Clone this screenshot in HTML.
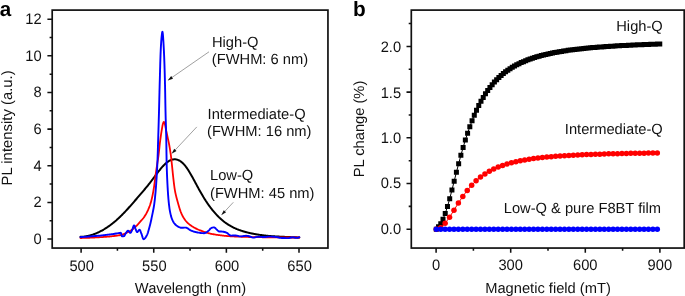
<!DOCTYPE html>
<html lang="en">
<head>
<meta charset="utf-8">
<title>PL spectra and magnetic field effect</title>
<style>
html,body{margin:0;padding:0;background:#fff;}
body{width:685px;height:296px;overflow:hidden;}
svg{display:block;}
</style>
</head>
<body>
<svg width="685" height="296" viewBox="0 0 685 296" font-family="'Liberation Sans', Arial, Helvetica, sans-serif" font-size="14.7" fill="#111" text-rendering="geometricPrecision">
<rect width="685" height="296" fill="#fff"/>
<g id="panel-a">
<path d="M80.5 236.85 L80.94 236.83 L81.38 236.81 L81.82 236.78 L82.25 236.75 L82.69 236.71 L83.13 236.67 L83.57 236.63 L84.01 236.58 L84.45 236.52 L84.88 236.46 L85.32 236.4 L85.76 236.33 L86.2 236.25 L86.64 236.18 L87.08 236.09 L87.52 236 L87.95 235.91 L88.39 235.81 L88.83 235.71 L89.27 235.61 L89.71 235.49 L90.15 235.38 L90.58 235.26 L91.02 235.13 L91.46 235 L91.9 234.87 L92.34 234.73 L92.78 234.58 L93.22 234.44 L93.65 234.28 L94.09 234.13 L94.53 233.96 L94.97 233.8 L95.41 233.62 L95.85 233.45 L96.29 233.27 L96.72 233.08 L97.16 232.89 L97.6 232.7 L98.04 232.5 L98.48 232.3 L98.92 232.09 L99.35 231.88 L99.79 231.66 L100.23 231.44 L100.67 231.21 L101.11 230.98 L101.55 230.75 L101.99 230.51 L102.42 230.27 L102.86 230.02 L103.3 229.77 L103.74 229.51 L104.18 229.25 L104.62 228.98 L105.05 228.71 L105.49 228.44 L105.93 228.16 L106.37 227.87 L106.81 227.58 L107.25 227.29 L107.69 226.99 L108.12 226.69 L108.56 226.39 L109 226.08 L109.44 225.76 L109.88 225.44 L110.32 225.12 L110.75 224.79 L111.19 224.46 L111.63 224.12 L112.07 223.78 L112.51 223.44 L112.95 223.09 L113.39 222.73 L113.82 222.38 L114.26 222.01 L114.7 221.65 L115.14 221.28 L115.58 220.9 L116.02 220.52 L116.46 220.14 L116.89 219.75 L117.33 219.36 L117.77 218.96 L118.21 218.56 L118.65 218.15 L119.09 217.74 L119.52 217.33 L119.96 216.91 L120.4 216.49 L120.84 216.06 L121.28 215.63 L121.72 215.2 L122.16 214.76 L122.59 214.32 L123.03 213.87 L123.47 213.42 L123.91 212.97 L124.35 212.51 L124.79 212.05 L125.22 211.58 L125.66 211.12 L126.1 210.65 L126.54 210.17 L126.98 209.7 L127.42 209.22 L127.86 208.74 L128.29 208.26 L128.73 207.77 L129.17 207.28 L129.61 206.79 L130.05 206.3 L130.49 205.8 L130.92 205.31 L131.36 204.81 L131.8 204.31 L132.24 203.81 L132.68 203.31 L133.12 202.8 L133.56 202.3 L133.99 201.79 L134.43 201.28 L134.87 200.77 L135.31 200.26 L135.75 199.75 L136.19 199.24 L136.63 198.73 L137.06 198.22 L137.5 197.71 L137.94 197.2 L138.38 196.69 L138.82 196.17 L139.26 195.66 L139.69 195.15 L140.13 194.64 L140.57 194.13 L141.01 193.62 L141.45 193.11 L141.89 192.6 L142.33 192.08 L142.76 191.57 L143.2 191.06 L143.64 190.55 L144.08 190.03 L144.52 189.51 L144.96 188.99 L145.39 188.47 L145.83 187.95 L146.27 187.42 L146.71 186.89 L147.15 186.36 L147.59 185.82 L148.03 185.28 L148.46 184.73 L148.9 184.18 L149.34 183.63 L149.78 183.07 L150.22 182.5 L150.66 181.93 L151.09 181.35 L151.53 180.77 L151.97 180.19 L152.41 179.61 L152.85 179.02 L153.29 178.43 L153.73 177.84 L154.16 177.25 L154.6 176.65 L155.04 176.06 L155.48 175.47 L155.92 174.89 L156.36 174.3 L156.79 173.72 L157.23 173.14 L157.67 172.56 L158.11 171.99 L158.55 171.43 L158.99 170.87 L159.43 170.32 L159.86 169.77 L160.3 169.24 L160.74 168.71 L161.18 168.19 L161.62 167.67 L162.06 167.17 L162.5 166.68 L162.93 166.2 L163.37 165.74 L163.81 165.28 L164.25 164.84 L164.69 164.41 L165.13 163.99 L165.56 163.59 L166 163.21 L166.44 162.84 L166.88 162.48 L167.32 162.15 L167.76 161.83 L168.2 161.52 L168.63 161.24 L169.07 160.97 L169.51 160.72 L169.95 160.49 L170.39 160.28 L170.83 160.09 L171.26 159.92 L171.7 159.77 L172.14 159.64 L172.58 159.53 L173.02 159.45 L173.46 159.38 L173.9 159.34 L174.33 159.31 L174.77 159.31 L175.21 159.33 L175.65 159.37 L176.09 159.43 L176.53 159.52 L176.96 159.62 L177.4 159.75 L177.84 159.9 L178.28 160.08 L178.72 160.27 L179.16 160.49 L179.6 160.73 L180.03 160.99 L180.47 161.28 L180.91 161.58 L181.35 161.91 L181.79 162.27 L182.23 162.64 L182.67 163.04 L183.1 163.47 L183.54 163.91 L183.98 164.38 L184.42 164.87 L184.86 165.39 L185.3 165.93 L185.73 166.5 L186.17 167.08 L186.61 167.69 L187.05 168.31 L187.49 168.96 L187.93 169.62 L188.37 170.3 L188.8 171 L189.24 171.71 L189.68 172.44 L190.12 173.18 L190.56 173.93 L191 174.69 L191.43 175.46 L191.87 176.24 L192.31 177.03 L192.75 177.83 L193.19 178.63 L193.63 179.43 L194.07 180.25 L194.5 181.06 L194.94 181.88 L195.38 182.69 L195.82 183.51 L196.26 184.32 L196.7 185.14 L197.13 185.95 L197.57 186.76 L198.01 187.57 L198.45 188.37 L198.89 189.17 L199.33 189.97 L199.77 190.76 L200.2 191.54 L200.64 192.32 L201.08 193.09 L201.52 193.85 L201.96 194.6 L202.4 195.35 L202.84 196.09 L203.27 196.82 L203.71 197.53 L204.15 198.24 L204.59 198.95 L205.03 199.64 L205.47 200.32 L205.9 201 L206.34 201.66 L206.78 202.32 L207.22 202.97 L207.66 203.6 L208.1 204.23 L208.54 204.86 L208.97 205.47 L209.41 206.07 L209.85 206.67 L210.29 207.26 L210.73 207.84 L211.17 208.41 L211.6 208.97 L212.04 209.53 L212.48 210.07 L212.92 210.61 L213.36 211.14 L213.8 211.66 L214.24 212.18 L214.67 212.68 L215.11 213.18 L215.55 213.67 L215.99 214.15 L216.43 214.62 L216.87 215.09 L217.3 215.55 L217.74 216 L218.18 216.44 L218.62 216.88 L219.06 217.3 L219.5 217.72 L219.94 218.14 L220.37 218.54 L220.81 218.94 L221.25 219.33 L221.69 219.71 L222.13 220.08 L222.57 220.45 L223.01 220.81 L223.44 221.17 L223.88 221.51 L224.32 221.85 L224.76 222.19 L225.2 222.51 L225.64 222.83 L226.07 223.15 L226.51 223.45 L226.95 223.75 L227.39 224.05 L227.83 224.34 L228.27 224.62 L228.71 224.9 L229.14 225.17 L229.58 225.43 L230.02 225.69 L230.46 225.94 L230.9 226.19 L231.34 226.44 L231.77 226.67 L232.21 226.9 L232.65 227.13 L233.09 227.35 L233.53 227.57 L233.97 227.78 L234.41 227.99 L234.84 228.2 L235.28 228.39 L235.72 228.59 L236.16 228.78 L236.6 228.96 L237.04 229.15 L237.47 229.32 L237.91 229.5 L238.35 229.67 L238.79 229.83 L239.23 230 L239.67 230.15 L240.11 230.31 L240.54 230.46 L240.98 230.61 L241.42 230.75 L241.86 230.9 L242.3 231.04 L242.74 231.17 L243.17 231.3 L243.61 231.44 L244.05 231.56 L244.49 231.69 L244.93 231.81 L245.37 231.93 L245.81 232.05 L246.24 232.17 L246.68 232.28 L247.12 232.39 L247.56 232.5 L248 232.61 L248.44 232.72 L248.88 232.82 L249.31 232.92 L249.75 233.02 L250.19 233.12 L250.63 233.22 L251.07 233.31 L251.51 233.41 L251.94 233.5 L252.38 233.59 L252.82 233.68 L253.26 233.76 L253.7 233.85 L254.14 233.93 L254.58 234.01 L255.01 234.09 L255.45 234.17 L255.89 234.25 L256.33 234.32 L256.77 234.4 L257.21 234.47 L257.64 234.54 L258.08 234.61 L258.52 234.68 L258.96 234.74 L259.4 234.81 L259.84 234.87 L260.28 234.93 L260.71 234.99 L261.15 235.05 L261.59 235.11 L262.03 235.17 L262.47 235.23 L262.91 235.28 L263.34 235.33 L263.78 235.39 L264.22 235.44 L264.66 235.49 L265.1 235.53 L265.54 235.58 L265.98 235.63 L266.41 235.67 L266.85 235.72 L267.29 235.76 L267.73 235.8 L268.17 235.85 L268.61 235.89 L269.05 235.93 L269.48 235.96 L269.92 236 L270.36 236.04 L270.8 236.07 L271.24 236.11 L271.68 236.14 L272.11 236.18 L272.55 236.21 L272.99 236.24 L273.43 236.27 L273.87 236.3 L274.31 236.33 L274.75 236.36 L275.18 236.39 L275.62 236.42 L276.06 236.44 L276.5 236.47 L276.94 236.49 L277.38 236.52 L277.81 236.54 L278.25 236.57 L278.69 236.59 L279.13 236.61 L279.57 236.64 L280.01 236.66 L280.45 236.68 L280.88 236.7 L281.32 236.72 L281.76 236.74 L282.2 236.76 L282.64 236.78 L283.08 236.8 L283.51 236.82 L283.95 236.84 L284.39 236.86 L284.83 236.88 L285.27 236.9 L285.71 236.92 L286.15 236.93 L286.58 236.95 L287.02 236.97 L287.46 236.99 L287.9 237.01 L288.34 237.02 L288.78 237.04 L289.22 237.06 L289.65 237.08 L290.09 237.09 L290.53 237.11 L290.97 237.13 L291.41 237.15 L291.85 237.16 L292.28 237.18 L292.72 237.2 L293.16 237.22 L293.6 237.24 L294.04 237.26 L294.48 237.27 L294.92 237.29 L295.35 237.31 L295.79 237.33 L296.23 237.35 L296.67 237.37 L297.11 237.39 L297.55 237.41 L297.98 237.44 L298.42 237.46 L298.86 237.48 L299.3 237.5" fill="none" stroke="#000" stroke-width="2.0" stroke-linejoin="round" stroke-linecap="round"/>
<path d="M80.5 238 L81.15 237.99 L81.8 237.98 L82.44 237.97 L83.09 237.96 L83.74 237.95 L84.39 237.93 L85.03 237.91 L85.68 237.89 L86.33 237.87 L86.97 237.85 L87.62 237.83 L88.27 237.8 L88.92 237.78 L89.56 237.75 L90.21 237.72 L90.85 237.69 L91.5 237.66 L92.15 237.63 L92.79 237.6 L93.44 237.57 L94.09 237.53 L94.73 237.5 L95.38 237.46 L96.02 237.43 L96.67 237.39 L97.31 237.36 L97.96 237.32 L98.6 237.28 L99.25 237.24 L99.89 237.21 L100.54 237.17 L101.19 237.13 L101.83 237.09 L102.48 237.05 L103.13 237 L103.79 236.96 L104.44 236.92 L105.09 236.87 L105.74 236.82 L106.4 236.77 L107.05 236.72 L107.7 236.66 L108.35 236.61 L109.01 236.55 L109.66 236.49 L110.31 236.43 L110.96 236.36 L111.61 236.3 L112.25 236.23 L112.9 236.15 L113.54 236.08 L114.19 236 L114.83 235.92 L115.47 235.83 L116.11 235.75 L116.74 235.66 L117.37 235.56 L118 235.47 L118.63 235.36 L119.25 235.26 L119.87 235.15 L120.49 235.04 L121.11 234.92 L121.72 234.77 L122.34 234.6 L122.95 234.4 L123.56 234.19 L124.17 233.95 L124.78 233.7 L125.38 233.43 L125.98 233.15 L126.58 232.86 L127.17 232.56 L127.75 232.25 L128.33 231.94 L128.89 231.63 L129.46 231.31 L130.01 230.99 L130.55 230.67 L131.09 230.32 L131.62 229.95 L132.15 229.57 L132.67 229.17 L133.18 228.76 L133.68 228.34 L134.18 227.92 L134.67 227.49 L135.15 227.07 L135.62 226.63 L136.09 226.19 L136.55 225.74 L137.01 225.28 L137.46 224.81 L137.9 224.34 L138.34 223.86 L138.78 223.38 L139.21 222.89 L139.64 222.41 L140.07 221.92 L140.5 221.44 L140.92 220.95 L141.35 220.46 L141.78 219.97 L142.2 219.47 L142.62 218.97 L143.03 218.46 L143.44 217.96 L143.83 217.44 L144.21 216.92 L144.58 216.39 L144.93 215.86 L145.27 215.32 L145.6 214.77 L145.93 214.22 L146.24 213.65 L146.55 213.08 L146.85 212.51 L147.15 211.92 L147.43 211.34 L147.71 210.75 L147.99 210.16 L148.25 209.56 L148.5 208.97 L148.75 208.37 L148.99 207.77 L149.22 207.17 L149.45 206.57 L149.68 205.96 L149.89 205.35 L150.11 204.74 L150.31 204.12 L150.51 203.5 L150.71 202.88 L150.89 202.26 L151.07 201.64 L151.24 201.01 L151.4 200.39 L151.56 199.77 L151.71 199.14 L151.86 198.51 L152 197.88 L152.14 197.25 L152.28 196.62 L152.42 195.99 L152.55 195.35 L152.68 194.72 L152.8 194.08 L152.92 193.44 L153.04 192.81 L153.16 192.17 L153.27 191.53 L153.39 190.89 L153.5 190.25 L153.6 189.61 L153.71 188.97 L153.81 188.34 L153.92 187.7 L154.02 187.06 L154.11 186.42 L154.2 185.78 L154.29 185.14 L154.38 184.5 L154.47 183.86 L154.55 183.22 L154.63 182.57 L154.71 181.93 L154.79 181.29 L154.87 180.65 L154.95 180 L155.03 179.36 L155.11 178.72 L155.19 178.08 L155.27 177.43 L155.36 176.79 L155.44 176.15 L155.53 175.51 L155.62 174.87 L155.71 174.23 L155.8 173.59 L155.89 172.95 L155.99 172.31 L156.08 171.67 L156.17 171.03 L156.27 170.39 L156.36 169.75 L156.46 169.11 L156.56 168.47 L156.65 167.83 L156.75 167.19 L156.84 166.55 L156.94 165.91 L157.03 165.27 L157.13 164.63 L157.23 163.99 L157.33 163.35 L157.43 162.71 L157.53 162.07 L157.63 161.43 L157.74 160.79 L157.84 160.15 L157.94 159.51 L158.03 158.87 L158.13 158.23 L158.22 157.59 L158.32 156.95 L158.4 156.31 L158.49 155.67 L158.57 155.03 L158.65 154.39 L158.73 153.75 L158.81 153.1 L158.88 152.46 L158.95 151.82 L159.02 151.18 L159.09 150.53 L159.16 149.89 L159.23 149.24 L159.29 148.6 L159.36 147.96 L159.43 147.31 L159.49 146.67 L159.56 146.03 L159.63 145.38 L159.7 144.74 L159.78 144.1 L159.85 143.45 L159.92 142.81 L160 142.17 L160.08 141.53 L160.17 140.89 L160.25 140.24 L160.33 139.6 L160.42 138.96 L160.51 138.32 L160.59 137.68 L160.68 137.04 L160.77 136.4 L160.86 135.76 L160.95 135.11 L161.05 134.47 L161.14 133.83 L161.24 133.19 L161.34 132.55 L161.44 131.91 L161.54 131.27 L161.64 130.64 L161.75 130 L161.86 129.36 L161.97 128.72 L162.08 128.09 L162.19 127.45 L162.3 126.81 L162.41 126.17 L162.53 125.52 L162.66 124.88 L162.81 124.26 L162.98 123.65 L163.23 122.95 L163.56 122.24 L163.88 121.9 L164.19 122.17 L164.49 122.85 L164.74 123.6 L164.92 124.23 L165.07 124.85 L165.2 125.49 L165.31 126.13 L165.42 126.77 L165.54 127.41 L165.67 128.04 L165.8 128.68 L165.94 129.31 L166.07 129.94 L166.2 130.58 L166.34 131.21 L166.47 131.84 L166.61 132.48 L166.74 133.11 L166.87 133.74 L167.01 134.38 L167.14 135.01 L167.27 135.64 L167.41 136.28 L167.54 136.91 L167.68 137.54 L167.82 138.17 L167.95 138.81 L168.09 139.44 L168.23 140.07 L168.36 140.7 L168.5 141.34 L168.63 141.97 L168.76 142.6 L168.89 143.24 L169.01 143.87 L169.14 144.51 L169.25 145.14 L169.37 145.78 L169.48 146.42 L169.59 147.05 L169.7 147.69 L169.81 148.33 L169.91 148.97 L170.02 149.61 L170.12 150.25 L170.22 150.89 L170.32 151.53 L170.42 152.17 L170.51 152.81 L170.61 153.45 L170.7 154.09 L170.78 154.73 L170.87 155.37 L170.95 156.01 L171.03 156.65 L171.11 157.29 L171.19 157.94 L171.26 158.58 L171.33 159.22 L171.4 159.86 L171.47 160.51 L171.54 161.15 L171.61 161.8 L171.68 162.44 L171.74 163.08 L171.81 163.73 L171.88 164.37 L171.95 165.01 L172.02 165.66 L172.09 166.3 L172.15 166.94 L172.22 167.59 L172.29 168.23 L172.35 168.87 L172.42 169.52 L172.48 170.16 L172.55 170.81 L172.61 171.45 L172.68 172.09 L172.74 172.74 L172.81 173.38 L172.87 174.02 L172.94 174.67 L173.01 175.31 L173.08 175.95 L173.15 176.6 L173.23 177.24 L173.3 177.88 L173.37 178.53 L173.45 179.17 L173.52 179.81 L173.59 180.46 L173.66 181.1 L173.74 181.75 L173.81 182.39 L173.89 183.03 L173.96 183.68 L174.04 184.32 L174.12 184.96 L174.21 185.61 L174.29 186.25 L174.38 186.89 L174.47 187.53 L174.56 188.17 L174.66 188.8 L174.76 189.44 L174.86 190.08 L174.97 190.71 L175.09 191.35 L175.21 191.98 L175.33 192.61 L175.47 193.25 L175.61 193.88 L175.75 194.51 L175.9 195.14 L176.05 195.77 L176.2 196.4 L176.36 197.03 L176.53 197.66 L176.69 198.29 L176.86 198.91 L177.03 199.54 L177.2 200.16 L177.38 200.79 L177.55 201.41 L177.73 202.03 L177.9 202.66 L178.08 203.28 L178.25 203.9 L178.43 204.53 L178.61 205.15 L178.79 205.78 L178.97 206.41 L179.15 207.04 L179.34 207.66 L179.53 208.29 L179.73 208.91 L179.93 209.53 L180.14 210.15 L180.35 210.76 L180.56 211.37 L180.79 211.97 L181.02 212.57 L181.26 213.16 L181.51 213.75 L181.77 214.33 L182.04 214.9 L182.32 215.48 L182.62 216.05 L182.94 216.62 L183.27 217.19 L183.61 217.76 L183.97 218.32 L184.33 218.87 L184.71 219.41 L185.1 219.94 L185.49 220.45 L185.89 220.96 L186.3 221.44 L186.72 221.91 L187.15 222.37 L187.6 222.82 L188.07 223.25 L188.55 223.68 L189.05 224.1 L189.56 224.51 L190.09 224.91 L190.62 225.3 L191.16 225.68 L191.7 226.05 L192.25 226.41 L192.8 226.75 L193.34 227.09 L193.89 227.41 L194.45 227.73 L195.02 228.04 L195.6 228.34 L196.18 228.63 L196.76 228.92 L197.35 229.2 L197.95 229.47 L198.54 229.73 L199.14 229.98 L199.74 230.22 L200.34 230.45 L200.94 230.68 L201.54 230.91 L202.15 231.14 L202.76 231.36 L203.37 231.58 L203.99 231.8 L204.6 232.01 L205.22 232.21 L205.84 232.42 L206.46 232.61 L207.08 232.8 L207.71 232.98 L208.33 233.16 L208.96 233.33 L209.59 233.48 L210.22 233.63 L210.85 233.77 L211.47 233.9 L212.1 234.02 L212.73 234.13 L213.37 234.24 L214 234.35 L214.64 234.46 L215.27 234.56 L215.91 234.67 L216.55 234.77 L217.19 234.86 L217.83 234.96 L218.47 235.05 L219.11 235.14 L219.75 235.23 L220.4 235.32 L221.04 235.4 L221.69 235.48 L222.33 235.56 L222.98 235.64 L223.62 235.71 L224.27 235.78 L224.92 235.84 L225.56 235.91 L226.21 235.97 L226.86 236.02 L227.5 236.08 L228.15 236.13 L228.8 236.17 L229.44 236.22 L230.09 236.26 L230.73 236.29 L231.38 236.32 L232.02 236.36 L232.67 236.39 L233.31 236.42 L233.96 236.45 L234.6 236.48 L235.25 236.51 L235.89 236.54 L236.54 236.57 L237.18 236.59 L237.83 236.62 L238.48 236.65 L239.12 236.67 L239.77 236.7 L240.42 236.72 L241.06 236.75 L241.71 236.77 L242.36 236.79 L243 236.81 L243.65 236.83 L244.3 236.86 L244.94 236.88 L245.59 236.9 L246.24 236.91 L246.89 236.93 L247.53 236.95 L248.18 236.97 L248.83 236.99 L249.48 237 L250.12 237.02 L250.77 237.03 L251.42 237.05 L252.07 237.06 L252.71 237.08 L253.36 237.09 L254.01 237.1 L254.66 237.12 L255.3 237.13 L255.95 237.14 L256.6 237.15 L257.25 237.16 L257.89 237.17 L258.54 237.18 L259.19 237.19 L259.83 237.2 L260.48 237.21 L261.13 237.21 L261.77 237.22 L262.42 237.23 L263.07 237.24 L263.71 237.25 L264.36 237.25 L265.01 237.26 L265.65 237.27 L266.3 237.28 L266.95 237.28 L267.6 237.29 L268.24 237.3 L268.89 237.31 L269.54 237.31 L270.18 237.32 L270.83 237.33 L271.48 237.33 L272.12 237.34 L272.77 237.35 L273.42 237.35 L274.06 237.36 L274.71 237.37 L275.36 237.37 L276.01 237.38 L276.65 237.39 L277.3 237.39 L277.95 237.4 L278.59 237.4 L279.24 237.41 L279.89 237.41 L280.53 237.42 L281.18 237.42 L281.83 237.43 L282.48 237.43 L283.12 237.44 L283.77 237.44 L284.42 237.45 L285.06 237.45 L285.71 237.46 L286.36 237.46 L287 237.46 L287.65 237.47 L288.3 237.47 L288.95 237.47 L289.59 237.48 L290.24 237.48 L290.89 237.48 L291.53 237.49 L292.18 237.49 L292.83 237.49 L293.48 237.49 L294.12 237.49 L294.77 237.49 L295.42 237.5 L296.06 237.5 L296.71 237.5 L297.36 237.5 L298.01 237.5 L298.65 237.5 L299.3 237.5" fill="none" stroke="#f00" stroke-width="1.8" stroke-linejoin="round" stroke-linecap="round"/>
<path d="M80.5 237.1 L81.54 237.04 L82.57 236.98 L83.61 236.92 L84.64 236.86 L85.68 236.79 L86.71 236.72 L87.74 236.64 L88.78 236.57 L89.81 236.49 L90.84 236.4 L91.88 236.32 L92.91 236.24 L93.94 236.15 L94.98 236.06 L96.01 235.97 L97.04 235.87 L98.07 235.78 L99.1 235.68 L100.13 235.59 L101.17 235.49 L102.2 235.38 L103.23 235.27 L104.26 235.16 L105.29 235.04 L106.32 234.92 L107.35 234.8 L108.38 234.67 L109.4 234.54 L110.43 234.41 L111.46 234.27 L112.5 234.13 L113.64 233.95 L114.84 233.75 L116.07 233.53 L117.27 233.32 L118.39 233.13 L119.38 232.97 L120.2 232.85 L120.8 232.8 L121.16 233.24 L121.38 234.59 L121.62 235.91 L122.08 236.3 L123.23 236.3 L124.08 236.16 L124.67 235.34 L125.21 234.23 L125.82 233.3 L126.48 232.28 L127.16 231.32 L127.86 230.75 L128.58 230.97 L129.35 231.97 L130.07 232.82 L130.69 232.72 L131.24 231.91 L131.75 230.77 L132.23 229.65 L132.68 228.59 L133.09 227.34 L133.49 226.18 L133.88 225.43 L134.27 225.39 L134.65 226.14 L135.03 227.33 L135.42 228.57 L135.85 229.62 L136.3 230.83 L136.78 231.81 L137.33 232.07 L138.03 231.3 L138.79 230.2 L139.44 229.7 L139.96 230.11 L140.42 231.04 L140.85 232.24 L141.27 233.44 L141.69 234.47 L142.08 235.66 L142.44 236.92 L142.82 238.06 L143.23 238.89 L143.71 239.2 L144.33 238.87 L145.09 238.08 L145.85 237.06 L146.46 236.08 L146.9 235.2 L147.31 234.28 L147.67 233.32 L148.01 232.33 L148.32 231.32 L148.61 230.3 L148.89 229.28 L149.16 228.25 L149.43 227.24 L149.7 226.25 L149.96 225.25 L150.21 224.24 L150.46 223.23 L150.69 222.22 L150.92 221.21 L151.14 220.2 L151.36 219.18 L151.57 218.17 L151.78 217.15 L151.99 216.13 L152.2 215.12 L152.41 214.1 L152.62 213.09 L152.82 212.07 L153.03 211.05 L153.23 210.03 L153.43 209.02 L153.62 208 L153.8 206.97 L153.98 205.95 L154.14 204.93 L154.28 203.91 L154.41 202.88 L154.54 201.86 L154.66 200.83 L154.77 199.8 L154.89 198.77 L155 197.74 L155.1 196.71 L155.2 195.68 L155.3 194.65 L155.4 193.62 L155.49 192.58 L155.59 191.55 L155.67 190.52 L155.76 189.48 L155.84 188.45 L155.92 187.41 L156 186.38 L156.08 185.34 L156.16 184.31 L156.23 183.27 L156.3 182.24 L156.37 181.2 L156.44 180.17 L156.51 179.13 L156.57 178.1 L156.64 177.07 L156.7 176.03 L156.77 175 L156.83 173.96 L156.88 172.93 L156.94 171.89 L157 170.86 L157.05 169.82 L157.1 168.79 L157.16 167.75 L157.21 166.72 L157.26 165.68 L157.3 164.65 L157.35 163.61 L157.39 162.58 L157.44 161.54 L157.48 160.5 L157.52 159.47 L157.56 158.43 L157.6 157.4 L157.64 156.36 L157.67 155.33 L157.71 154.29 L157.75 153.25 L157.78 152.22 L157.81 151.18 L157.85 150.15 L157.88 149.11 L157.91 148.07 L157.94 147.04 L157.97 146 L158 144.97 L158.03 143.93 L158.06 142.89 L158.1 141.86 L158.13 140.82 L158.16 139.79 L158.19 138.75 L158.22 137.71 L158.25 136.68 L158.28 135.64 L158.31 134.61 L158.34 133.57 L158.38 132.53 L158.41 131.5 L158.44 130.46 L158.47 129.43 L158.5 128.39 L158.54 127.36 L158.57 126.32 L158.6 125.28 L158.63 124.25 L158.66 123.21 L158.69 122.18 L158.72 121.14 L158.75 120.1 L158.78 119.07 L158.81 118.03 L158.84 117 L158.87 115.96 L158.9 114.92 L158.93 113.89 L158.96 112.85 L158.99 111.82 L159.01 110.78 L159.04 109.74 L159.07 108.71 L159.09 107.67 L159.12 106.63 L159.15 105.6 L159.17 104.56 L159.2 103.53 L159.22 102.49 L159.25 101.45 L159.27 100.42 L159.3 99.38 L159.32 98.35 L159.35 97.31 L159.37 96.27 L159.4 95.24 L159.42 94.2 L159.45 93.16 L159.48 92.13 L159.5 91.09 L159.53 90.06 L159.55 89.02 L159.58 87.98 L159.61 86.95 L159.63 85.91 L159.66 84.88 L159.69 83.84 L159.72 82.8 L159.75 81.77 L159.78 80.73 L159.81 79.7 L159.84 78.66 L159.87 77.62 L159.9 76.59 L159.93 75.55 L159.95 74.51 L159.98 73.48 L160.01 72.44 L160.04 71.4 L160.06 70.37 L160.09 69.33 L160.12 68.29 L160.15 67.26 L160.18 66.22 L160.2 65.18 L160.23 64.15 L160.26 63.11 L160.3 62.07 L160.33 61.04 L160.36 60 L160.39 58.96 L160.43 57.93 L160.47 56.89 L160.5 55.86 L160.54 54.82 L160.58 53.79 L160.62 52.75 L160.67 51.72 L160.71 50.68 L160.76 49.65 L160.81 48.61 L160.86 47.58 L160.92 46.55 L160.97 45.51 L161.03 44.46 L161.11 43.29 L161.19 42.01 L161.29 40.67 L161.4 39.3 L161.52 37.93 L161.64 36.62 L161.77 35.39 L161.9 34.28 L162.02 33.33 L162.14 32.58 L162.26 32.06 L162.37 31.81 L162.47 31.88 L162.58 32.23 L162.68 32.85 L162.79 33.69 L162.89 34.71 L163 35.87 L163.1 37.14 L163.2 38.48 L163.29 39.85 L163.38 41.22 L163.46 42.54 L163.53 43.78 L163.59 44.9 L163.65 45.94 L163.71 46.97 L163.76 48.01 L163.82 49.04 L163.87 50.08 L163.92 51.11 L163.97 52.15 L164.01 53.18 L164.06 54.22 L164.1 55.25 L164.15 56.29 L164.19 57.32 L164.23 58.36 L164.27 59.39 L164.31 60.43 L164.35 61.47 L164.38 62.5 L164.42 63.54 L164.45 64.57 L164.49 65.61 L164.52 66.65 L164.55 67.68 L164.59 68.72 L164.62 69.76 L164.65 70.79 L164.68 71.83 L164.71 72.87 L164.74 73.9 L164.77 74.94 L164.79 75.97 L164.82 77.01 L164.85 78.05 L164.88 79.08 L164.9 80.12 L164.93 81.16 L164.95 82.19 L164.98 83.23 L165 84.26 L165.03 85.3 L165.05 86.34 L165.07 87.37 L165.09 88.41 L165.11 89.44 L165.13 90.48 L165.15 91.52 L165.17 92.55 L165.19 93.59 L165.21 94.63 L165.23 95.66 L165.24 96.7 L165.26 97.73 L165.28 98.77 L165.3 99.81 L165.32 100.84 L165.33 101.88 L165.35 102.92 L165.37 103.95 L165.39 104.99 L165.41 106.03 L165.43 107.06 L165.45 108.1 L165.47 109.13 L165.49 110.17 L165.51 111.21 L165.54 112.24 L165.56 113.28 L165.58 114.32 L165.61 115.35 L165.64 116.39 L165.66 117.42 L165.69 118.46 L165.72 119.5 L165.76 120.53 L165.79 121.57 L165.82 122.6 L165.86 123.64 L165.89 124.67 L165.92 125.71 L165.96 126.75 L165.99 127.78 L166.02 128.82 L166.06 129.85 L166.09 130.89 L166.12 131.93 L166.14 132.96 L166.17 134 L166.19 135.03 L166.22 136.07 L166.24 137.11 L166.26 138.14 L166.28 139.18 L166.29 140.22 L166.31 141.25 L166.33 142.29 L166.34 143.32 L166.36 144.36 L166.37 145.4 L166.39 146.43 L166.4 147.47 L166.42 148.51 L166.43 149.54 L166.45 150.58 L166.46 151.62 L166.47 152.65 L166.49 153.69 L166.5 154.73 L166.52 155.76 L166.54 156.8 L166.55 157.83 L166.57 158.87 L166.59 159.91 L166.61 160.94 L166.63 161.98 L166.65 163.02 L166.68 164.05 L166.7 165.09 L166.73 166.12 L166.76 167.16 L166.79 168.19 L166.82 169.23 L166.85 170.27 L166.89 171.3 L166.93 172.34 L166.96 173.37 L167 174.41 L167.05 175.45 L167.09 176.48 L167.13 177.52 L167.18 178.55 L167.23 179.59 L167.28 180.63 L167.33 181.66 L167.38 182.7 L167.43 183.73 L167.49 184.77 L167.54 185.8 L167.6 186.84 L167.66 187.87 L167.72 188.9 L167.78 189.94 L167.84 190.97 L167.91 192.01 L167.97 193.04 L168.04 194.08 L168.12 195.11 L168.2 196.15 L168.28 197.18 L168.36 198.22 L168.45 199.25 L168.55 200.28 L168.65 201.31 L168.75 202.34 L168.86 203.37 L168.97 204.4 L169.09 205.43 L169.22 206.46 L169.35 207.49 L169.5 208.52 L169.66 209.55 L169.83 210.58 L170.02 211.61 L170.22 212.63 L170.43 213.64 L170.66 214.64 L170.91 215.63 L171.19 216.63 L171.51 217.63 L171.87 218.64 L172.27 219.64 L172.7 220.6 L173.18 221.54 L173.68 222.41 L174.22 223.23 L174.85 224.01 L175.59 224.77 L176.42 225.48 L177.28 226.09 L178.16 226.58 L179.09 227.04 L180.08 227.46 L181.1 227.74 L182.11 227.8 L183.16 227.74 L184.21 227.66 L185.24 227.61 L186.21 227.67 L187.13 228.03 L188.03 228.6 L188.92 229.25 L189.82 229.87 L190.74 230.36 L191.7 230.77 L192.67 231.16 L193.65 231.49 L194.64 231.78 L195.64 232.03 L196.66 232.25 L197.68 232.45 L198.7 232.62 L199.75 232.79 L200.79 232.95 L201.83 233.09 L202.85 233.17 L203.84 233.2 L204.82 233.01 L205.79 232.61 L206.73 232.06 L207.63 231.43 L208.47 230.82 L209.21 230.1 L209.89 229.24 L210.59 228.48 L211.44 227.99 L212.45 227.58 L213.48 227.33 L214.39 227.41 L215.22 228.02 L216.01 228.85 L216.81 229.58 L217.57 230.43 L218.34 231.18 L219.2 231.51 L220.19 231.55 L221.27 231.57 L222.31 231.62 L223.35 231.76 L224.39 231.98 L225.39 232.25 L226.35 232.55 L227.24 233.09 L228.09 233.82 L228.91 234.6 L229.76 235.24 L230.65 235.58 L231.61 235.59 L232.63 235.57 L233.69 235.54 L234.75 235.51 L235.8 235.5 L236.82 235.6 L237.83 235.89 L238.84 236.22 L239.85 236.4 L240.87 236.37 L241.9 236.26 L242.94 236.11 L243.97 235.96 L245.01 235.84 L246.03 235.8 L247.06 235.87 L248.09 236.05 L249.11 236.28 L250.11 236.53 L251.09 236.94 L252.05 237.39 L253.03 237.6 L254.04 237.51 L255.06 237.3 L256.09 237.06 L257.12 236.86 L258.15 236.8 L259.18 236.82 L260.22 236.86 L261.26 236.91 L262.29 236.96 L263.33 236.99 L264.37 237 L265.4 236.94 L266.44 236.86 L267.47 236.75 L268.5 236.66 L269.54 236.61 L270.57 236.61 L271.61 236.64 L272.64 236.7 L273.68 236.78 L274.71 236.88 L275.74 236.98 L276.77 237.1 L277.79 237.29 L278.81 237.51 L279.83 237.72 L280.85 237.9 L281.88 238 L282.91 238.03 L283.95 238.05 L284.99 238.07 L286.03 238.09 L287.06 238.1 L288.09 238.1 L289.12 238 L290.15 237.79 L291.17 237.54 L292.19 237.36 L293.21 237.31 L294.23 237.52 L295.24 237.8 L296.26 237.9 L297.27 237.8 L298.29 237.57 L299.3 237.2" fill="none" stroke="#0000ff" stroke-width="1.9" stroke-linejoin="round" stroke-linecap="round"/>
<rect x="52.2" y="10.1" width="275.75" height="237.95000000000002" fill="none" stroke="#111" stroke-width="1.7"/>
<path d="M52.2 239.04H47.4M52.2 202.4H47.4M52.2 165.76H47.4M52.2 129.12H47.4M52.2 92.48H47.4M52.2 55.84H47.4M52.2 19.2H47.4M52.2 220.72H49.6M52.2 184.08H49.6M52.2 147.44H49.6M52.2 110.8H49.6M52.2 74.16H49.6M52.2 37.52H49.6M81.1 248.05V252.85M153.74 248.05V252.85M226.37 248.05V252.85M299 248.05V252.85M117.42 248.05V250.65M190.05 248.05V250.65M262.69 248.05V250.65" stroke="#111" stroke-width="1.55" fill="none"/>
<text transform="translate(41.6 244.04) scale(0.967 1)" font-size="15.2" text-anchor="end">0</text>
<text transform="translate(41.6 207.4) scale(0.967 1)" font-size="15.2" text-anchor="end">2</text>
<text transform="translate(41.6 170.76) scale(0.967 1)" font-size="15.2" text-anchor="end">4</text>
<text transform="translate(41.6 134.12) scale(0.967 1)" font-size="15.2" text-anchor="end">6</text>
<text transform="translate(41.6 97.48) scale(0.967 1)" font-size="15.2" text-anchor="end">8</text>
<text transform="translate(41.6 60.84) scale(0.967 1)" font-size="15.2" text-anchor="end">10</text>
<text transform="translate(41.6 24.2) scale(0.967 1)" font-size="15.2" text-anchor="end">12</text>
<text transform="translate(81.7 270.6) scale(0.967 1)" font-size="15.2" text-anchor="middle">500</text>
<text transform="translate(154.34 270.6) scale(0.967 1)" font-size="15.2" text-anchor="middle">550</text>
<text transform="translate(226.97 270.6) scale(0.967 1)" font-size="15.2" text-anchor="middle">600</text>
<text transform="translate(299.61 270.6) scale(0.967 1)" font-size="15.2" text-anchor="middle">650</text>
<text x="190.5" y="292.6" text-anchor="middle">Wavelength (nm)</text>
<text transform="translate(11.8 127.9) rotate(-90)" text-anchor="middle" font-size="14.87">PL intensity (a.u.)</text>
<text x="-0.3" y="15.5" font-size="20.6" font-weight="bold" fill="#000">a</text>
<text x="212" y="46.7">High-Q</text>
<text x="211.8" y="63.5">(FWHM: 6 nm)</text>
<text x="207.6" y="118.6">Intermediate-Q</text>
<text x="207" y="136.4">(FWHM: 16 nm)</text>
<text x="210" y="179.8">Low-Q</text>
<text x="210" y="198.3">(FWHM: 45 nm)</text>
<path d="M209 51.8L172.12 77.37" stroke="#777" stroke-width="0.7" fill="none"/>
<path d="M167.6 80.5L171.21 76.05L173.03 78.68Z" fill="#111"/>
<path d="M196.8 126.9L175.36 149.79" stroke="#777" stroke-width="0.7" fill="none"/>
<path d="M171.6 153.8L174.19 148.69L176.53 150.88Z" fill="#111"/>
<path d="M233.3 202.3L224.95 211.27" stroke="#777" stroke-width="0.7" fill="none"/>
<path d="M221.2 215.3L223.78 210.18L226.12 212.36Z" fill="#111"/>
</g>
<g id="panel-b">
<path d="M436.3 229.2 L438.53 226.73 L440.77 223.68 L443 219.23 L445.24 213.56 L447.47 206.55 L449.71 198.73 L451.94 190.05 L454.18 181.17 L456.41 172.32 L458.65 163.68 L460.88 155.37 L463.12 147.48 L465.35 140.07 L467.59 133.14 L469.82 126.71 L472.06 120.76 L474.29 115.27 L476.52 110.22 L478.76 105.58 L480.99 101.32 L483.23 97.4 L485.46 93.8 L487.7 90.49 L489.93 87.45 L492.17 84.65 L494.4 82.07 L496.64 79.69 L498.87 77.49 L501.11 75.46 L503.34 73.58 L505.58 71.84 L507.81 70.22 L510.05 68.72 L512.28 67.32 L514.51 66.02 L516.75 64.81 L518.98 63.68 L521.22 62.62 L523.45 61.63 L525.69 60.7 L527.92 59.83 L530.16 59.01 L532.39 58.24 L534.63 57.52 L536.86 56.84 L539.1 56.19 L541.33 55.59 L543.57 55.01 L545.8 54.47 L548.03 53.96 L550.27 53.47 L552.5 53.01 L554.74 52.57 L556.97 52.16 L559.21 51.76 L561.44 51.39 L563.68 51.03 L565.91 50.69 L568.15 50.37 L570.38 50.06 L572.62 49.76 L574.85 49.48 L577.09 49.21 L579.32 48.95 L581.56 48.7 L583.79 48.47 L586.02 48.24 L588.26 48.02 L590.49 47.81 L592.73 47.61 L594.96 47.42 L597.2 47.24 L599.43 47.06 L601.67 46.89 L603.9 46.73 L606.14 46.57 L608.37 46.42 L610.61 46.27 L612.84 46.13 L615.08 45.99 L617.31 45.86 L619.55 45.73 L621.78 45.61 L624.01 45.49 L626.25 45.38 L628.48 45.27 L630.72 45.16 L632.95 45.06 L635.19 44.96 L637.42 44.86 L639.66 44.77 L641.89 44.68 L644.13 44.59 L646.36 44.5 L648.6 44.42 L650.83 44.34 L653.07 44.26 L655.3 44.19 L657.54 44.12 L659.77 44.04" fill="none" stroke="#000" stroke-width="1"/>
<path d="M433.8 226.7h5.0v5.0h-5.0zM436.03 224.23h5.0v5.0h-5.0zM438.27 221.18h5.0v5.0h-5.0zM440.5 216.73h5.0v5.0h-5.0zM442.74 211.06h5.0v5.0h-5.0zM444.97 204.05h5.0v5.0h-5.0zM447.21 196.23h5.0v5.0h-5.0zM449.44 187.55h5.0v5.0h-5.0zM451.68 178.67h5.0v5.0h-5.0zM453.91 169.82h5.0v5.0h-5.0zM456.15 161.18h5.0v5.0h-5.0zM458.38 152.87h5.0v5.0h-5.0zM460.62 144.98h5.0v5.0h-5.0zM462.85 137.57h5.0v5.0h-5.0zM465.09 130.64h5.0v5.0h-5.0zM467.32 124.21h5.0v5.0h-5.0zM469.56 118.26h5.0v5.0h-5.0zM471.79 112.77h5.0v5.0h-5.0zM474.02 107.72h5.0v5.0h-5.0zM476.26 103.08h5.0v5.0h-5.0zM478.49 98.82h5.0v5.0h-5.0zM480.73 94.9h5.0v5.0h-5.0zM482.96 91.3h5.0v5.0h-5.0zM485.2 87.99h5.0v5.0h-5.0zM487.43 84.95h5.0v5.0h-5.0zM489.67 82.15h5.0v5.0h-5.0zM491.9 79.57h5.0v5.0h-5.0zM494.14 77.19h5.0v5.0h-5.0zM496.37 74.99h5.0v5.0h-5.0zM498.61 72.96h5.0v5.0h-5.0zM500.84 71.08h5.0v5.0h-5.0zM503.08 69.34h5.0v5.0h-5.0zM505.31 67.72h5.0v5.0h-5.0zM507.55 66.22h5.0v5.0h-5.0zM509.78 64.82h5.0v5.0h-5.0zM512.01 63.52h5.0v5.0h-5.0zM514.25 62.31h5.0v5.0h-5.0zM516.48 61.18h5.0v5.0h-5.0zM518.72 60.12h5.0v5.0h-5.0zM520.95 59.13h5.0v5.0h-5.0zM523.19 58.2h5.0v5.0h-5.0zM525.42 57.33h5.0v5.0h-5.0zM527.66 56.51h5.0v5.0h-5.0zM529.89 55.74h5.0v5.0h-5.0zM532.13 55.02h5.0v5.0h-5.0zM534.36 54.34h5.0v5.0h-5.0zM536.6 53.69h5.0v5.0h-5.0zM538.83 53.09h5.0v5.0h-5.0zM541.07 52.51h5.0v5.0h-5.0zM543.3 51.97h5.0v5.0h-5.0zM545.53 51.46h5.0v5.0h-5.0zM547.77 50.97h5.0v5.0h-5.0zM550 50.51h5.0v5.0h-5.0zM552.24 50.07h5.0v5.0h-5.0zM554.47 49.66h5.0v5.0h-5.0zM556.71 49.26h5.0v5.0h-5.0zM558.94 48.89h5.0v5.0h-5.0zM561.18 48.53h5.0v5.0h-5.0zM563.41 48.19h5.0v5.0h-5.0zM565.65 47.87h5.0v5.0h-5.0zM567.88 47.56h5.0v5.0h-5.0zM570.12 47.26h5.0v5.0h-5.0zM572.35 46.98h5.0v5.0h-5.0zM574.59 46.71h5.0v5.0h-5.0zM576.82 46.45h5.0v5.0h-5.0zM579.06 46.2h5.0v5.0h-5.0zM581.29 45.97h5.0v5.0h-5.0zM583.52 45.74h5.0v5.0h-5.0zM585.76 45.52h5.0v5.0h-5.0zM587.99 45.31h5.0v5.0h-5.0zM590.23 45.11h5.0v5.0h-5.0zM592.46 44.92h5.0v5.0h-5.0zM594.7 44.74h5.0v5.0h-5.0zM596.93 44.56h5.0v5.0h-5.0zM599.17 44.39h5.0v5.0h-5.0zM601.4 44.23h5.0v5.0h-5.0zM603.64 44.07h5.0v5.0h-5.0zM605.87 43.92h5.0v5.0h-5.0zM608.11 43.77h5.0v5.0h-5.0zM610.34 43.63h5.0v5.0h-5.0zM612.58 43.49h5.0v5.0h-5.0zM614.81 43.36h5.0v5.0h-5.0zM617.05 43.23h5.0v5.0h-5.0zM619.28 43.11h5.0v5.0h-5.0zM621.51 42.99h5.0v5.0h-5.0zM623.75 42.88h5.0v5.0h-5.0zM625.98 42.77h5.0v5.0h-5.0zM628.22 42.66h5.0v5.0h-5.0zM630.45 42.56h5.0v5.0h-5.0zM632.69 42.46h5.0v5.0h-5.0zM634.92 42.36h5.0v5.0h-5.0zM637.16 42.27h5.0v5.0h-5.0zM639.39 42.18h5.0v5.0h-5.0zM641.63 42.09h5.0v5.0h-5.0zM643.86 42h5.0v5.0h-5.0zM646.1 41.92h5.0v5.0h-5.0zM648.33 41.84h5.0v5.0h-5.0zM650.57 41.76h5.0v5.0h-5.0zM652.8 41.69h5.0v5.0h-5.0zM655.04 41.62h5.0v5.0h-5.0zM657.27 41.54h5.0v5.0h-5.0z" fill="#000"/>
<path d="M436.3 229.2 L440.72 227.65 L445.14 223.36 L449.56 217.2 L453.98 210.15 L458.4 203.04 L462.82 196.38 L467.24 190.44 L471.66 185.27 L476.08 180.86 L480.5 177.11 L484.92 173.95 L489.34 171.27 L493.76 169 L498.18 167.06 L502.6 165.41 L507.02 163.99 L511.44 162.77 L515.86 161.7 L520.28 160.78 L524.7 159.97 L529.12 159.25 L533.54 158.62 L537.96 158.06 L542.38 157.56 L546.8 157.12 L551.22 156.72 L555.64 156.36 L560.06 156.03 L564.48 155.74 L568.9 155.47 L573.32 155.23 L577.74 155 L582.16 154.8 L586.58 154.61 L591 154.44 L595.42 154.28 L599.84 154.14 L604.26 154 L608.68 153.87 L613.1 153.76 L617.52 153.65 L621.94 153.55 L626.36 153.45 L630.78 153.36 L635.2 153.28 L639.62 153.2 L644.04 153.13 L648.46 153.06 L652.88 153 L657.3 152.94" fill="none" stroke="#f00" stroke-width="1"/>
<g fill="#f00"><circle cx="436.3" cy="229.2" r="2.75"/><circle cx="440.72" cy="227.65" r="2.75"/><circle cx="445.14" cy="223.36" r="2.75"/><circle cx="449.56" cy="217.2" r="2.75"/><circle cx="453.98" cy="210.15" r="2.75"/><circle cx="458.4" cy="203.04" r="2.75"/><circle cx="462.82" cy="196.38" r="2.75"/><circle cx="467.24" cy="190.44" r="2.75"/><circle cx="471.66" cy="185.27" r="2.75"/><circle cx="476.08" cy="180.86" r="2.75"/><circle cx="480.5" cy="177.11" r="2.75"/><circle cx="484.92" cy="173.95" r="2.75"/><circle cx="489.34" cy="171.27" r="2.75"/><circle cx="493.76" cy="169" r="2.75"/><circle cx="498.18" cy="167.06" r="2.75"/><circle cx="502.6" cy="165.41" r="2.75"/><circle cx="507.02" cy="163.99" r="2.75"/><circle cx="511.44" cy="162.77" r="2.75"/><circle cx="515.86" cy="161.7" r="2.75"/><circle cx="520.28" cy="160.78" r="2.75"/><circle cx="524.7" cy="159.97" r="2.75"/><circle cx="529.12" cy="159.25" r="2.75"/><circle cx="533.54" cy="158.62" r="2.75"/><circle cx="537.96" cy="158.06" r="2.75"/><circle cx="542.38" cy="157.56" r="2.75"/><circle cx="546.8" cy="157.12" r="2.75"/><circle cx="551.22" cy="156.72" r="2.75"/><circle cx="555.64" cy="156.36" r="2.75"/><circle cx="560.06" cy="156.03" r="2.75"/><circle cx="564.48" cy="155.74" r="2.75"/><circle cx="568.9" cy="155.47" r="2.75"/><circle cx="573.32" cy="155.23" r="2.75"/><circle cx="577.74" cy="155" r="2.75"/><circle cx="582.16" cy="154.8" r="2.75"/><circle cx="586.58" cy="154.61" r="2.75"/><circle cx="591" cy="154.44" r="2.75"/><circle cx="595.42" cy="154.28" r="2.75"/><circle cx="599.84" cy="154.14" r="2.75"/><circle cx="604.26" cy="154" r="2.75"/><circle cx="608.68" cy="153.87" r="2.75"/><circle cx="613.1" cy="153.76" r="2.75"/><circle cx="617.52" cy="153.65" r="2.75"/><circle cx="621.94" cy="153.55" r="2.75"/><circle cx="626.36" cy="153.45" r="2.75"/><circle cx="630.78" cy="153.36" r="2.75"/><circle cx="635.2" cy="153.28" r="2.75"/><circle cx="639.62" cy="153.2" r="2.75"/><circle cx="644.04" cy="153.13" r="2.75"/><circle cx="648.46" cy="153.06" r="2.75"/><circle cx="652.88" cy="153" r="2.75"/><circle cx="657.3" cy="152.94" r="2.75"/></g>
<g fill="#0000ff"><circle cx="436.3" cy="229.3" r="2.75"/><circle cx="440.72" cy="229.3" r="2.75"/><circle cx="445.14" cy="229.3" r="2.75"/><circle cx="449.56" cy="229.3" r="2.75"/><circle cx="453.98" cy="229.3" r="2.75"/><circle cx="458.4" cy="229.3" r="2.75"/><circle cx="462.82" cy="229.3" r="2.75"/><circle cx="467.24" cy="229.3" r="2.75"/><circle cx="471.66" cy="229.3" r="2.75"/><circle cx="476.08" cy="229.3" r="2.75"/><circle cx="480.5" cy="229.3" r="2.75"/><circle cx="484.92" cy="229.3" r="2.75"/><circle cx="489.34" cy="229.3" r="2.75"/><circle cx="493.76" cy="229.3" r="2.75"/><circle cx="498.18" cy="229.3" r="2.75"/><circle cx="502.6" cy="229.3" r="2.75"/><circle cx="507.02" cy="229.3" r="2.75"/><circle cx="511.44" cy="229.3" r="2.75"/><circle cx="515.86" cy="229.3" r="2.75"/><circle cx="520.28" cy="229.3" r="2.75"/><circle cx="524.7" cy="229.3" r="2.75"/><circle cx="529.12" cy="229.3" r="2.75"/><circle cx="533.54" cy="229.3" r="2.75"/><circle cx="537.96" cy="229.3" r="2.75"/><circle cx="542.38" cy="229.3" r="2.75"/><circle cx="546.8" cy="229.3" r="2.75"/><circle cx="551.22" cy="229.3" r="2.75"/><circle cx="555.64" cy="229.3" r="2.75"/><circle cx="560.06" cy="229.3" r="2.75"/><circle cx="564.48" cy="229.3" r="2.75"/><circle cx="568.9" cy="229.3" r="2.75"/><circle cx="573.32" cy="229.3" r="2.75"/><circle cx="577.74" cy="229.3" r="2.75"/><circle cx="582.16" cy="229.3" r="2.75"/><circle cx="586.58" cy="229.3" r="2.75"/><circle cx="591" cy="229.3" r="2.75"/><circle cx="595.42" cy="229.3" r="2.75"/><circle cx="599.84" cy="229.3" r="2.75"/><circle cx="604.26" cy="229.3" r="2.75"/><circle cx="608.68" cy="229.3" r="2.75"/><circle cx="613.1" cy="229.3" r="2.75"/><circle cx="617.52" cy="229.3" r="2.75"/><circle cx="621.94" cy="229.3" r="2.75"/><circle cx="626.36" cy="229.3" r="2.75"/><circle cx="630.78" cy="229.3" r="2.75"/><circle cx="635.2" cy="229.3" r="2.75"/><circle cx="639.62" cy="229.3" r="2.75"/><circle cx="644.04" cy="229.3" r="2.75"/><circle cx="648.46" cy="229.3" r="2.75"/><circle cx="652.88" cy="229.3" r="2.75"/><circle cx="657.3" cy="229.3" r="2.75"/></g>
<rect x="411.3" y="10.1" width="272.90000000000003" height="237.95000000000002" fill="none" stroke="#111" stroke-width="1.7"/>
<path d="M411.3 229.2H406.5M411.3 183.5H406.5M411.3 137.8H406.5M411.3 92.1H406.5M411.3 46.4H406.5M411.3 206.35H408.7M411.3 160.65H408.7M411.3 114.95H408.7M411.3 69.25H408.7M411.3 23.55H408.7M436.1 248.05V252.85M510.7 248.05V252.85M585.3 248.05V252.85M659.9 248.05V252.85M473.4 248.05V250.65M548 248.05V250.65M622.6 248.05V250.65" stroke="#111" stroke-width="1.55" fill="none"/>
<text transform="translate(401.1 233.9) scale(0.967 1)" font-size="15.2" text-anchor="end">0.0</text>
<text transform="translate(401.1 188.44) scale(0.967 1)" font-size="15.2" text-anchor="end">0.5</text>
<text transform="translate(401.1 142.98) scale(0.967 1)" font-size="15.2" text-anchor="end">1.0</text>
<text transform="translate(401.1 97.52) scale(0.967 1)" font-size="15.2" text-anchor="end">1.5</text>
<text transform="translate(401.1 52.06) scale(0.967 1)" font-size="15.2" text-anchor="end">2.0</text>
<text transform="translate(436.05 269.7) scale(0.967 1)" font-size="15.2" text-anchor="middle">0</text>
<text transform="translate(510.65 269.7) scale(0.967 1)" font-size="15.2" text-anchor="middle">300</text>
<text transform="translate(585.25 269.7) scale(0.967 1)" font-size="15.2" text-anchor="middle">600</text>
<text transform="translate(659.85 269.7) scale(0.967 1)" font-size="15.2" text-anchor="middle">900</text>
<text x="548" y="292.6" text-anchor="middle">Magnetic field (mT)</text>
<text transform="translate(364.3 129.0) rotate(-90)" text-anchor="middle">PL change (%)</text>
<text x="353.1" y="15.5" font-size="20.8" font-weight="bold" fill="#000">b</text>
<text x="662.8" y="30.8" text-anchor="end">High-Q</text>
<text x="662.8" y="134.3" text-anchor="end">Intermediate-Q</text>
<text x="661" y="213" text-anchor="end">Low-Q &amp; pure F8BT film</text>
</g>
</svg>
</body>
</html>
